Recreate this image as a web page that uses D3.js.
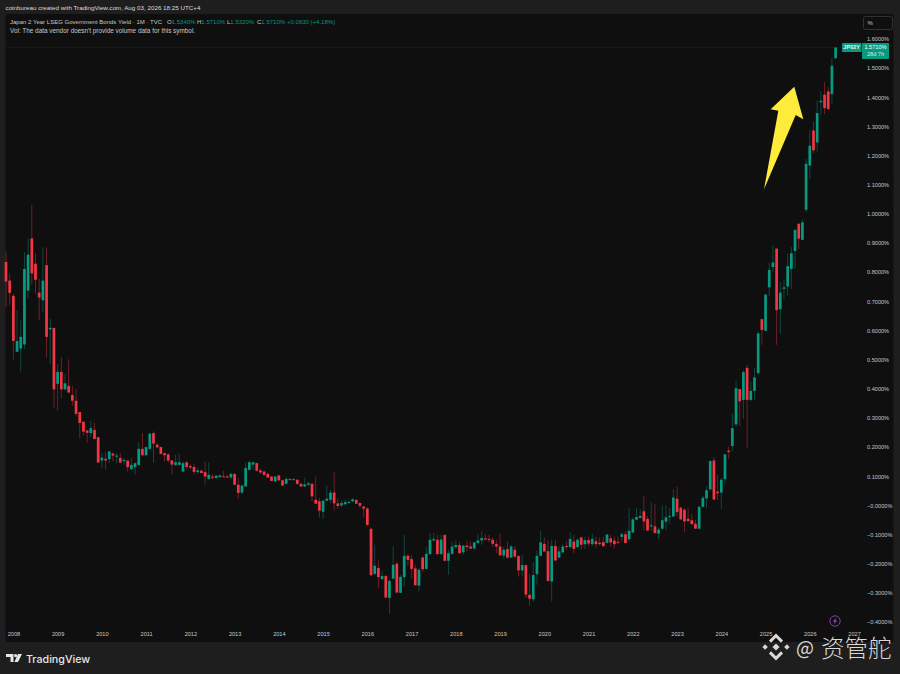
<!DOCTYPE html>
<html>
<head>
<meta charset="utf-8">
<title>Japan 2 Year Government Bonds Yield</title>
<script src="https://cdn.jsdelivr.net/npm/d3@7"></script>
<style>
    html, body { margin: 0; padding: 0; background: #1e1e1e; }
    svg { display: block; font-family: "Liberation Sans", Arial, sans-serif; }
    .axis path, .axis line { display: none; }
    .axis text { fill: #c8c8c8; font-size: 5.6px; }
</style>
</head>
<body>
<div id="main"></div>
<script>
var ctx = { w: 900, h: 674, GREEN: "#089981", RED: "#f23645", BAR_W: 2.7 };

// monthly bars, Nov 2007 to Aug 2026, yield in %
var FIRST_YEAR = 2007, FIRST_MONTH = 10;
var opens = [
.835,.771,.719,.527,.538,.552,.737,.916,.829,.730,.704,.824,.604,.609,.417,.458,.398,.410,.379,.359,
.320,.287,.257,.248,.259,.234,.154,.160,.159,.178,.167,.163,.152,.154,.124,.131,.139,.194,.172,.194,
.248,.208,.200,.179,.175,.154,.139,.139,.116,.148,.135,.132,.114,.119,.114,.091,.099,.094,.097,.100,
.099,.096,.108,.071,.044,.065,.122,.140,.145,.120,.116,.108,.099,.082,.103,.086,.074,.088,.088,.088,
.074,.065,.071,.074,.019,.014,-.022,.016,.019,.044,.007,0,.004,.008,.014,.019,.008,-.004,-.011,-.080,
-.235,-.215,-.253,-.242,-.317,-.251,-.200,-.300,-.246,-.173,-.184,-.216,-.275,-.179,-.218,-.167,-.120,-.118,-.167,-.101,
-.190,-.166,-.143,-.136,-.161,-.138,-.141,-.148,-.129,-.120,-.113,-.115,-.118,-.132,-.141,-.172,-.150,-.179,-.152,-.174,
-.223,-.205,-.307,-.322,-.236,-.173,-.132,-.157,-.261,-.139,-.179,-.161,-.139,-.143,-.124,-.143,-.110,-.133,-.119,-.133,
-.123,-.128,-.126,-.128,-.113,-.121,-.125,-.108,-.099,-.116,-.093,-.049,-.043,-.020,-.046,-.072,-.072,-.097,-.080,-.056,
-.039,-.038,.023,-.008,-.015,-.046,-.051,-.063,-.080,-.005,.024,.055,.154,.047,.044,.090,.188,.204,.278,.399,
.362,.472,.362,.393,.454,.639,.599,.748,.818,.881,.673,.743,.751,.811,.873,.966,.911,1.014,1.166,1.286,
1.245,1.383,1.409,1.420,1.411,1.534];
var highs = [
.871,.795,.725,.669,.634,.869,.915,1.031,.865,.778,.885,.885,.640,.609,.485,.509,.450,.501,.410,.399,
.320,.287,.259,.289,.283,.235,.179,.183,.187,.182,.179,.180,.162,.154,.162,.147,.216,.248,.202,.250,
.254,.214,.202,.182,.179,.156,.174,.176,.151,.151,.142,.143,.128,.124,.151,.148,.108,.105,.105,.119,
.105,.111,.111,.094,.071,.147,.154,.151,.148,.126,.119,.113,.099,.102,.105,.088,.096,.094,.094,.090,
.076,.094,.082,.076,.099,.025,.019,.068,.054,.116,.025,.019,.019,.019,.025,.021,.010,-.001,-.006,-.080,
-.135,-.189,-.227,-.238,-.253,-.139,-.192,-.238,-.101,-.166,-.170,-.204,-.215,-.175,-.143,-.095,-.095,-.101,-.101,-.101,
-.152,-.124,-.120,-.124,-.135,-.121,-.124,-.124,-.099,-.089,-.099,-.101,-.110,-.118,-.097,-.141,-.124,-.135,-.139,-.170,
-.170,-.204,-.235,-.195,-.155,-.087,-.110,-.120,-.118,-.118,-.141,-.133,-.124,-.092,-.101,-.112,-.107,-.107,-.107,-.097,
-.107,-.110,-.107,-.097,-.101,-.107,-.107,-.092,-.089,-.009,-.041,-.009,-.013,.033,-.036,.011,.004,-.078,-.001,0,
-.009,.056,.064,-.004,-.009,-.009,-.029,-.049,0,.033,.065,.156,.166,.105,.094,.176,.202,.314,.427,.399,
.465,.482,.425,.471,.597,.639,.725,.833,.891,.881,.768,.776,.863,.886,.948,.968,.980,1.188,1.289,1.317,
1.389,1.420,1.452,1.434,1.534,1.571];
var lows = [
.680,.688,.500,.527,.459,.536,.710,.757,.726,.636,.662,.506,.484,.335,.326,.366,.394,.387,.342,.305,
.230,.239,.215,.234,.228,.147,.128,.122,.145,.151,.145,.145,.139,.116,.122,.105,.136,.171,.170,.189,
.147,.196,.174,.151,.147,.108,.134,.137,.114,.122,.124,.105,.108,.111,.071,.088,.090,.090,.094,.097,
.094,.091,.071,.024,.039,.063,.120,.122,.116,.108,.102,.094,.084,.080,.084,.067,.073,.084,.086,.071,
.062,.063,.065,.014,.006,-.041,-.047,.014,.008,-.017,-.013,-.006,-.001,.006,.010,.006,-.009,-.041,-.070,-.241,
-.238,-.284,-.255,-.318,-.372,-.253,-.301,-.301,-.278,-.207,-.250,-.274,-.295,-.230,-.219,-.170,-.124,-.170,-.170,-.192,
-.238,-.170,-.150,-.166,-.170,-.158,-.150,-.150,-.132,-.135,-.120,-.127,-.143,-.164,-.175,-.183,-.183,-.181,-.181,-.244,
-.242,-.318,-.344,-.330,-.272,-.175,-.160,-.261,-.330,-.192,-.181,-.164,-.152,-.147,-.164,-.147,-.152,-.150,-.141,-.139,
-.147,-.139,-.141,-.133,-.141,-.148,-.133,-.124,-.132,-.124,-.095,-.052,-.044,-.086,-.089,-.089,-.095,-.115,-.084,-.084,
-.064,-.040,-.038,-.049,-.092,-.057,-.067,-.081,-.081,-.006,-.009,.051,.019,.019,-.012,.071,.159,.185,.271,.273,
.296,.196,.357,.362,.448,.551,.599,.719,.799,.551,.589,.709,.720,.743,.812,.879,.911,1.005,1.119,1.208,
1.214,1.340,1.343,1.355,1.378,1.532];
var closes = [
.768,.729,.564,.564,.578,.811,.860,.796,.774,.713,.771,.578,.609,.398,.458,.398,.419,.387,.359,.314,
.283,.253,.249,.265,.228,.147,.164,.154,.185,.171,.171,.147,.156,.131,.139,.145,.194,.172,.200,.246,
.212,.199,.177,.172,.154,.140,.148,.148,.145,.132,.130,.115,.120,.111,.099,.105,.095,.102,.103,.097,
.096,.108,.071,.043,.068,.128,.148,.148,.119,.113,.105,.096,.084,.099,.086,.068,.091,.091,.090,.074,
.065,.072,.076,.031,.006,-.018,.016,.023,.044,.007,-.002,.008,.011,.012,.021,.006,-.001,-.011,-.067,-.240,
-.207,-.246,-.242,-.316,-.259,-.204,-.299,-.245,-.173,-.187,-.218,-.274,-.221,-.219,-.166,-.118,-.115,-.167,-.117,-.190,
-.164,-.141,-.136,-.164,-.138,-.143,-.148,-.127,-.120,-.112,-.117,-.118,-.132,-.141,-.171,-.152,-.179,-.141,-.176,-.223,
-.205,-.306,-.320,-.239,-.173,-.127,-.158,-.259,-.139,-.189,-.158,-.141,-.143,-.115,-.149,-.118,-.135,-.119,-.131,-.115,
-.133,-.133,-.140,-.100,-.127,-.133,-.128,-.099,-.129,-.087,-.048,-.040,-.036,-.055,-.086,-.068,-.095,-.083,-.051,-.041,
-.036,.027,-.023,-.048,-.055,-.054,-.064,-.080,-.005,.026,.052,.152,.020,.042,.088,.175,.183,.265,.402,.357,
.457,.362,.393,.439,.590,.602,.723,.808,.833,.670,.730,.748,.821,.865,.945,.915,.971,1.172,1.234,1.218,
1.346,1.388,1.363,1.360,1.508,1.571];

var yearLabels = d3.range(2008, 2028);
var priceTicks = [1.6, 1.5, 1.4, 1.3, 1.2, 1.1, 1.0, 0.9, 0.8, 0.7, 0.6, 0.5, 0.4, 0.3, 0.2, 0.1, 0, -0.1, -0.2, -0.3, -0.4];
var LAST_PRICE = 1.571;

var bars = opens.map((o, i) => ({ i: i, open: o, high: highs[i], low: lows[i], close: closes[i] }));

// TradingView spaces the bars evenly, so the scale runs on the bar number
var xScale = d3.scaleLinear().domain([0, 225]).range([6, 835.6]);
var yScale = d3.scaleLinear().domain([1.6, -0.4]).range([39, 622]);

var barOfYear = function (year) {
    return (year - FIRST_YEAR) * 12 - FIRST_MONTH;
};

var fmtPct = function (v) {
    if (v === 0) return "\u22120.0000%";
    return (v < 0 ? "\u2212" : "") + Math.abs(v).toFixed(4) + "%";
};

var drawFrame = function (svg) {
    svg.append("rect").attr("width", ctx.w).attr("height", ctx.h).attr("fill", "#1e1e1e");
    svg.append("rect").attr("x", 5.5).attr("y", 14).attr("width", 888).attr("height", 628)
        .attr("rx", 2).attr("fill", "#0f0f0f");
};

var drawHeader = function (svg) {
    svg.append("text").attr("x", 5.5).attr("y", 9.8).attr("fill", "#dbdbdb").attr("font-size", 6.26)
        .text("coinbureau created with TradingView.com, Aug 03, 2026 18:25 UTC+4");

    var line = svg.append("text").attr("y", 23.6).attr("font-size", 6.02).attr("fill", "#c8c8c8");
    line.append("tspan").attr("x", 10).text("Japan 2 Year LSEG Government Bonds Yield \u00b7 1M \u00b7 TVC");
    var ohlc = [["O", "1.5340%", 167], ["H", "1.5710%", 197], ["L", "1.5320%", 227], ["C", "1.5710%", 257]];
    ohlc.forEach(function (d) {
        line.append("tspan").attr("x", d[2]).text(d[0]);
        line.append("tspan").attr("fill", ctx.GREEN).text(d[1]);
    });
    line.append("tspan").attr("x", 287).attr("fill", ctx.GREEN).text("+0.0630 (+4.18%)");

    svg.append("text").attr("x", 10).attr("y", 32.6).attr("font-size", 6.4).attr("fill", "#c8c8c8")
        .text("Vol: The data vendor doesn't provide volume data for this symbol.");
};

var drawCandles = function (svg) {
    var color = (d) => (d.close >= d.open ? ctx.GREEN : ctx.RED);

    svg.append("line").attr("x1", 6).attr("x2", 842)
        .attr("y1", yScale(LAST_PRICE)).attr("y2", yScale(LAST_PRICE))
        .attr("stroke", ctx.GREEN).attr("stroke-width", 0.6)
        .attr("stroke-dasharray", "1 1").attr("opacity", 0.35);

    svg.append("g").attr("id", "wicks").selectAll("line").data(bars).enter().append("line")
        .attr("x1", (d) => xScale(d.i)).attr("x2", (d) => xScale(d.i))
        .attr("y1", (d) => yScale(d.high)).attr("y2", (d) => yScale(d.low))
        .attr("stroke", color).attr("stroke-width", 1).attr("opacity", 0.42);

    svg.append("g").attr("id", "bodies").selectAll("rect").data(bars).enter().append("rect")
        .attr("x", (d) => xScale(d.i) - ctx.BAR_W / 2).attr("width", ctx.BAR_W)
        .attr("y", (d) => yScale(Math.max(d.open, d.close)))
        .attr("height", (d) => Math.max(1, Math.abs(yScale(d.open) - yScale(d.close))))
        .attr("fill", color);
};

var drawAxes = function (svg) {
    var yAxis = d3.axisRight(yScale).tickValues(priceTicks).tickSize(0).tickPadding(0).tickFormat(fmtPct);
    svg.append("g").attr("class", "axis").attr("transform", "translate(867,0)").call(yAxis);

    var xAxis = d3.axisBottom(xScale).tickValues(yearLabels.map(barOfYear)).tickSize(0).tickPadding(0)
        .tickFormat((d, i) => yearLabels[i]);
    svg.append("g").attr("class", "axis").attr("transform", "translate(0,632)").call(xAxis);
};

var drawAnnotations = function (svg) {
    // yellow arrow pencilled on the chart
    svg.append("polygon").attr("fill", "#ffeb3b")
        .attr("points", "794.3,86.7 803.3,119.3 795.7,115 764,189.3 778.3,110.7 770.7,109.3");

    // symbol and price tags
    var ty = yScale(LAST_PRICE);
    svg.append("rect").attr("x", 842).attr("y", ty - 4.5).attr("width", 19.5).attr("height", 9)
        .attr("rx", 1).attr("fill", ctx.GREEN);
    svg.append("text").attr("x", 851.7).attr("y", ty + 2).attr("text-anchor", "middle")
        .attr("font-size", 5.6).attr("font-weight", 700).attr("fill", "#e8f5f2").text("JP02Y");
    svg.append("rect").attr("x", 862).attr("y", ty - 4.5).attr("width", 27).attr("height", 16)
        .attr("rx", 1).attr("fill", ctx.GREEN);
    svg.append("text").attr("x", 875.5).attr("y", ty + 2).attr("text-anchor", "middle")
        .attr("font-size", 5.6).attr("fill", "#ffffff").text(fmtPct(LAST_PRICE));
    svg.append("text").attr("x", 875.5).attr("y", ty + 9).attr("text-anchor", "middle")
        .attr("font-size", 5.6).attr("fill", "#d5efe9").text("28d 7h");

    // % button
    svg.append("rect").attr("x", 863.5).attr("y", 16.5).attr("width", 29).attr("height", 13)
        .attr("rx", 2).attr("fill", "none").attr("stroke", "#3a3a3a").attr("stroke-width", 0.8);
    svg.append("text").attr("x", 867.5).attr("y", 25.2).attr("font-size", 6).attr("fill", "#c8c8c8").text("%");

    // purple lightning badge
    svg.append("circle").attr("cx", 835).attr("cy", 621).attr("r", 5.2)
        .attr("fill", "none").attr("stroke", "#8e44ad").attr("stroke-width", 0.9);
    svg.append("polygon").attr("fill", "#9c4fc4")
        .attr("points", "836,617.8 833,621.5 834.8,621.5 834,624.2 837,620.4 835.2,620.4");
};

var drawBranding = function (svg) {
    // TradingView logo
    var logo = svg.append("g").attr("fill", "#e6e6e6");
    logo.append("path").attr("d", "M6,654H13.5V662H10.5V657H6Z");
    logo.append("circle").attr("cx", 15.6).attr("cy", 655.6).attr("r", 1.6);
    logo.append("path").attr("d", "M18,654H22L18,662H14.4Z");
    svg.append("text").attr("x", 26).attr("y", 662.5).attr("font-size", 10.7)
        .attr("font-family", "Inter, 'Liberation Sans', sans-serif").attr("font-weight", 500)
        .attr("fill", "#e6e6e6").text("TradingView");

    // Binance-style watermark
    var mark = svg.append("g").attr("fill", "#d9d9d9").attr("transform", "translate(776,647)");
    mark.append("path").attr("d", "M0,-3.6L3.6,0L0,3.6L-3.6,0Z");
    mark.append("path").attr("d", "M0,-13.6L7.1,-6.5L4.9,-4.3L0,-9.2L-4.9,-4.3L-7.1,-6.5Z");
    mark.append("path").attr("d", "M-7.1,6.5L-4.9,4.3L0,9.2L4.9,4.3L7.1,6.5L0,13.6Z");
    mark.append("path").attr("d", "M-13.6,0L-10.9,-2.7L-8.2,0L-10.9,2.7Z");
    mark.append("path").attr("d", "M13.6,0L10.9,-2.7L8.2,0L10.9,2.7Z");
    svg.append("text").attr("x", 796).attr("y", 655).attr("font-size", 19)
        .attr("font-family", "'Noto Sans CJK SC', sans-serif").attr("fill", "#d9d9d9").text("@");
    svg.append("text").attr("x", 821).attr("y", 657).attr("font-size", 23.5)
        .attr("font-family", "'Noto Sans CJK SC', sans-serif").attr("font-weight", 300)
        .attr("fill", "#d9d9d9").text("资管舵");
};

var createViz = function () {
    var svg = d3.select("#main").append("svg").attr("width", ctx.w).attr("height", ctx.h);
    drawFrame(svg);
    drawHeader(svg);
    drawCandles(svg);
    drawAxes(svg);
    drawAnnotations(svg);
    drawBranding(svg);
};

createViz();
</script>
</body>
</html>
